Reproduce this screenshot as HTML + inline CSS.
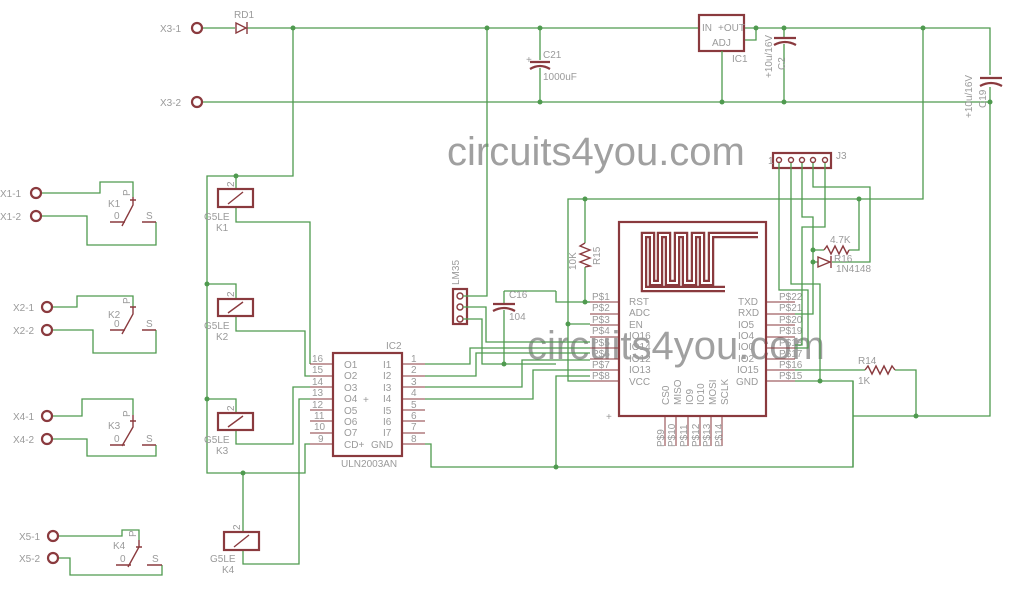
<!DOCTYPE html>
<html><head><meta charset="utf-8"><style>
html,body{margin:0;padding:0;background:#fff;}
svg{display:block;}
text{font-family:"Liberation Sans",sans-serif;fill:#9a9a9a;font-size:10px;}
.w{stroke:#4f9a4f;stroke-width:1.3;fill:none;}
.c{stroke:#8a3a3e;stroke-width:2.2;fill:none;}
.c1{stroke:#8a3a3e;stroke-width:1.4;fill:none;}
.d{fill:#4f9a4f;}
.wm{font-size:40px;fill:#a0a0a0;}
</style></head><body>
<svg width="1016" height="591" viewBox="0 0 1016 591" xmlns="http://www.w3.org/2000/svg">
<!-- rails -->
<path class="w" d="M203,28 H235 M247,28 H699 M744,28 H990 V75 M203,102 H990 M990,87 V416 H853"/>
<path class="w" d="M744,40 H756 V28"/>
<!-- X3 -->
<text x="160" y="32">X3-1</text><circle class="c" cx="197" cy="28" r="5"/>
<text x="160" y="106">X3-2</text><circle class="c" cx="197" cy="102" r="5"/>
<text x="234" y="18">RD1</text>
<path class="c1" d="M236,23 L246,28 L236,33 Z M247,22 V34" fill="none"/>
<!-- C21 -->
<path class="w" d="M540,28 V60 M540,68 V102"/>
<path class="c" d="M530,62 H550 M530,69 Q540,63 550,69"/><text x="526" y="63" font-size="8">+</text>
<text x="543" y="58">C21</text><text x="543" y="80">1000uF</text>
<!-- IC1 -->
<rect class="c" x="699" y="15" width="45" height="36"/>
<text x="702" y="31">IN</text><text x="718" y="31">+OUT</text><text x="712" y="46">ADJ</text><text x="732" y="62">IC1</text>
<path class="w" d="M722,51 V102"/>
<!-- C2 -->
<path class="w" d="M784,28 V37 M784,44 V102"/>
<path class="c" d="M774,38 H796 M774,45 Q785,39 796,45"/>
<text transform="translate(772,78) rotate(-90)">+10u/16V</text><text transform="translate(785,70) rotate(-90)">C2</text>
<!-- C19 -->
<path class="c" d="M980,78 H1002 M980,86 Q991,80 1002,86"/>
<text transform="translate(972,118) rotate(-90)">+10u/16V</text><text transform="translate(986,108) rotate(-90)">C19</text>
<!-- dots top -->
<g class="d"><circle cx="293" cy="28" r="2.5"/><circle cx="487" cy="28" r="2.5"/><circle cx="540" cy="28" r="2.5"/><circle cx="756" cy="28" r="2.5"/><circle cx="784" cy="28" r="2.5"/><circle cx="923" cy="28" r="2.5"/>
<circle cx="540" cy="102" r="2.5"/><circle cx="722" cy="102" r="2.5"/><circle cx="784" cy="102" r="2.5"/><circle cx="990" cy="102" r="2.5"/></g>
<!-- watermarks -->
<text class="wm" x="447" y="165">circuits4you.com</text>
<text class="wm" x="527" y="359">circuits4you.com</text>
<!-- left relay bus -->
<path class="w" d="M293,28 V176 H207 V473 H305 V444 H310 M207,284 H236 V299 M207,399 H236 V413 M236,176 V189"/>
<path class="w" d="M236,207 V222 H310 V364 M236,316 V331 H305 V376 H310 M236,430 V444 H293 V387 H310 M243,473 V532 M243,550 V564 H299 V399 H310"/>
<g class="d"><circle cx="236" cy="176" r="2.5"/><circle cx="207" cy="284" r="2.5"/><circle cx="207" cy="399" r="2.5"/><circle cx="243" cy="473" r="2.5"/></g>
<!-- relay coils -->
<g>
<rect class="c" x="218" y="189" width="35" height="18"/><path class="c1" d="M228,204 L243,192"/><text transform="translate(234,187) rotate(-90)" font-size="8">2</text><text x="204" y="220">G5LE</text><text x="216" y="231">K1</text>
<rect class="c" x="218" y="299" width="35" height="17"/><path class="c1" d="M228,313 L243,302"/><text transform="translate(234,297) rotate(-90)" font-size="8">2</text><text x="204" y="329">G5LE</text><text x="216" y="340">K2</text>
<rect class="c" x="218" y="413" width="35" height="17"/><path class="c1" d="M228,427 L243,416"/><text transform="translate(234,411) rotate(-90)" font-size="8">2</text><text x="204" y="443">G5LE</text><text x="216" y="454">K3</text>
<rect class="c" x="224" y="532" width="35" height="18"/><path class="c1" d="M234,547 L249,535"/><text transform="translate(240,530) rotate(-90)" font-size="8">2</text><text x="210" y="562">G5LE</text><text x="222" y="573">K4</text>
</g>
<!-- switches -->
<g>
<text x="0" y="197">X1-1</text><circle class="c" cx="36" cy="193" r="5"/>
<text x="0" y="220">X1-2</text><circle class="c" cx="36" cy="216" r="5"/>
<path class="w" d="M42,193 H100 V182 H133 V197 M42,216 H87 V245 H156 V222"/>
<path class="c1" d="M130,200 H136 M133,197 V205 L122,226 M110,222 H125 M142,222 H156"/>
<text x="108" y="207">K1</text><text x="114" y="219" font-size="8">0</text><text x="146" y="219" font-size="8">S</text><text transform="translate(130,196) rotate(-90)" font-size="8">P</text>

<text x="13" y="311">X2-1</text><circle class="c" cx="47" cy="307" r="5"/>
<text x="13" y="334">X2-2</text><circle class="c" cx="47" cy="330" r="5"/>
<path class="w" d="M53,307 H77 V296 H133 V307 M53,330 H93 V353 H156 V330"/>
<path class="c1" d="M130,307 H136 M133,307 V314 L122,334 M110,330 H125 M142,330 H156"/>
<text x="108" y="318">K2</text><text x="114" y="327" font-size="8">0</text><text x="146" y="327" font-size="8">S</text><text transform="translate(130,304) rotate(-90)" font-size="8">P</text>

<text x="13" y="420">X4-1</text><circle class="c" cx="47" cy="416" r="5"/>
<text x="13" y="443">X4-2</text><circle class="c" cx="47" cy="439" r="5"/>
<path class="w" d="M53,416 H82 V399 H133 V415 M53,439 H87 V456 H156 V445"/>
<path class="c1" d="M130,421 H136 M133,415 V427 L122,446 M110,445 H125 M142,445 H156"/>
<text x="108" y="429">K3</text><text x="114" y="442" font-size="8">0</text><text x="146" y="442" font-size="8">S</text><text transform="translate(130,417) rotate(-90)" font-size="8">P</text>

<text x="19" y="540">X5-1</text><circle class="c" cx="53" cy="536" r="5"/>
<text x="19" y="562">X5-2</text><circle class="c" cx="53" cy="558" r="5"/>
<path class="w" d="M59,536 H122 V530 H139 V540 M59,558 H70 V575 H162 V565"/>
<path class="c1" d="M136,547 H142 M139,540 V547 L128,567 M116,565 H131 M147,565 H162"/>
<text x="113" y="549">K4</text><text x="120" y="562" font-size="8">0</text><text x="152" y="562" font-size="8">S</text><text transform="translate(136,537) rotate(-90)" font-size="8">P</text>
</g>
<!-- ULN2003 -->
<rect class="c" x="333" y="353" width="69" height="103"/>
<text x="386" y="349">IC2</text><text x="341" y="467">ULN2003AN</text><text x="363" y="403" font-size="11">+</text>
<g class="c1" style="stroke-width:1">
<path d="M310,364 H333 M310,376 H333 M310,387 H333 M310,399 H333 M310,410 H333 M310,421 H333 M310,433 H333 M310,444 H333"/>
<path d="M402,364 H425 M402,376 H425 M402,387 H425 M402,399 H425 M402,410 H425 M402,421 H425 M402,433 H425 M402,444 H425"/>
</g>
<g font-size="9">
<text x="312" y="362">16</text><text x="312" y="373">15</text><text x="312" y="385">14</text><text x="312" y="396">13</text><text x="312" y="408">12</text><text x="314" y="419">11</text><text x="314" y="430">10</text><text x="318" y="442">9</text>
<text x="411" y="362">1</text><text x="411" y="373">2</text><text x="411" y="385">3</text><text x="411" y="396">4</text><text x="411" y="408">5</text><text x="411" y="419">6</text><text x="411" y="430">7</text><text x="411" y="442">8</text>
<text x="344" y="368">O1</text><text x="344" y="379">O2</text><text x="344" y="391">O3</text><text x="344" y="402">O4</text><text x="344" y="414">O5</text><text x="344" y="425">O6</text><text x="344" y="436">O7</text><text x="344" y="448">CD+</text>
<text x="383" y="368">I1</text><text x="383" y="379">I2</text><text x="383" y="391">I3</text><text x="383" y="402">I4</text><text x="383" y="414">I5</text><text x="383" y="425">I6</text><text x="383" y="436">I7</text><text x="371" y="448">GND</text>
</g>
<!-- ULN to ESP wires -->
<path class="w" d="M425,364 H470 V348 H590 M425,376 H476 V353 H590 M425,387 H522 V360 H590 M425,399 H533 V370 H590 M425,444 H431 V467 H853 V381 H795 M556,467 V376 H590"/>
<circle class="d" cx="556" cy="467" r="2.5"/>
<!-- LM35 -->
<rect class="c" x="453" y="289" width="14" height="35"/>
<circle class="c1" cx="460" cy="296" r="3"/><circle class="c1" cx="460" cy="307" r="3"/><circle class="c1" cx="460" cy="319" r="3"/>
<text transform="translate(459,285) rotate(-90)">LM35</text>
<path class="w" d="M463,296 H487 V28 M463,307 H486 V342 H590 M463,319 H482 V364 H556"/>
<!-- C16 -->
<path class="w" d="M504,291 V304 M504,310 V364 M556,291 H504 M556,291 V302 H590"/>
<path class="c" d="M493,304 H515 M493,311 Q504,305 515,311"/>
<text x="509" y="298">C16</text><text x="509" y="320">104</text>
<g class="d"><circle cx="504" cy="364" r="2.5"/></g>
<!-- VCC/ R15 -->
<path class="w" d="M923,28 V199 H568 V381 H590 M568,324 H590 M585,199 V243 M585,267 V302 H590"/>
<path class="c1" d="M585,243 L580,246 L590,250 L580,254 L590,258 L580,262 L590,266 L585,267"/>
<text transform="translate(576,270) rotate(-90)">10K</text><text transform="translate(600,265) rotate(-90)">R15</text>
<g class="d"><circle cx="585" cy="199" r="2.5"/><circle cx="585" cy="302" r="2.5"/><circle cx="568" cy="324" r="2.5"/><circle cx="859" cy="199" r="2.5"/></g>
<!-- ESP -->
<rect class="c" x="619" y="222" width="147" height="194"/>
<path d="M725,289 H644 V235 H652 V283 H660 V235 H668 V283 H677 V235 H685 V283 H694 V235 H702 V283 H711 V235 H758" stroke="#8a3a3e" stroke-width="6.5" fill="none" stroke-linejoin="miter"/>
<path d="M725,289 H644 V235 H652 V283 H660 V235 H668 V283 H677 V235 H685 V283 H694 V235 H702 V283 H711 V235 H758" stroke="#fff" stroke-width="2" fill="none"/>
<g class="c1" style="stroke-width:1">
<path d="M590,302 H619 M590,314 H619 M590,325 H619 M590,337 H619 M590,348 H619 M590,359 H619 M590,370 H619 M590,381 H619"/>
<path d="M766,302 H795 M766,314 H795 M766,325 H795 M766,337 H795 M766,348 H795 M766,359 H795 M766,370 H795 M766,381 H795"/>
<path d="M665,416 V446 M676,416 V446 M688,416 V446 M700,416 V446 M711,416 V446 M722,416 V446"/>
</g>
<g font-size="9">
<text x="592" y="300">P$1</text><text x="592" y="311">P$2</text><text x="592" y="323">P$3</text><text x="592" y="334">P$4</text><text x="592" y="346">P$5</text><text x="592" y="357">P$6</text><text x="592" y="368">P$7</text><text x="592" y="379">P$8</text>
<text x="629" y="305">RST</text><text x="629" y="316">ADC</text><text x="629" y="328">EN</text><text x="629" y="339">IO16</text><text x="629" y="350">IO14</text><text x="629" y="362">IO12</text><text x="629" y="373">IO13</text><text x="629" y="385">VCC</text>
<text x="738" y="305">TXD</text><text x="738" y="316">RXD</text><text x="738" y="328">IO5</text><text x="738" y="339">IO4</text><text x="738" y="350">IO0</text><text x="738" y="362">IO2</text><text x="737" y="373">IO15</text><text x="736" y="385">GND</text>
<text x="779" y="300">P$22</text><text x="779" y="311">P$21</text><text x="779" y="323">P$20</text><text x="779" y="334">P$19</text><text x="779" y="346">P$18</text><text x="779" y="357">P$17</text><text x="779" y="368">P$16</text><text x="779" y="379">P$15</text>
<text transform="translate(669,405) rotate(-90)">CS0</text><text transform="translate(681,405) rotate(-90)">MISO</text><text transform="translate(693,405) rotate(-90)">IO9</text><text transform="translate(704,405) rotate(-90)">IO10</text><text transform="translate(716,405) rotate(-90)">MOSI</text><text transform="translate(728,405) rotate(-90)">SCLK</text>
<text transform="translate(664,447) rotate(-90)">P$9</text><text transform="translate(675,447) rotate(-90)">P$10</text><text transform="translate(687,447) rotate(-90)">P$11</text><text transform="translate(699,447) rotate(-90)">P$12</text><text transform="translate(710,447) rotate(-90)">P$13</text><text transform="translate(722,447) rotate(-90)">P$14</text>
</g>
<text x="606" y="420">+</text>
<!-- J3 -->
<rect class="c" x="773" y="153" width="58" height="15"/>
<g class="c1"><circle cx="779" cy="160" r="2.5"/><circle cx="791" cy="160" r="2.5"/><circle cx="802" cy="160" r="2.5"/><circle cx="813" cy="160" r="2.5"/><circle cx="825" cy="160" r="2.5"/></g>
<text x="768" y="164" font-size="8">1</text><text x="836" y="159">J3</text>
<path class="w" d="M779,163 V290 H808 V348 H795 M791,163 V284 H820 V381 M802,163 V217 H813 V314 H795 M813,163 V187 H870 V262 H832 M825,163 V227 H802 V345 H795 M859,199 V250 H849 M813,250 H824 M813,250 V262 H818"/>
<path class="c1" d="M824,250 L827,246 L831,254 L835,246 L839,254 L843,246 L847,254 L849,250"/>
<path class="c1" d="M818,257 L830,262 L818,267 Z M831,256 V268"/>
<text x="830" y="243">4.7K</text><text x="834" y="262">R16</text><text x="836" y="272">1N4148</text>
<g class="d"><circle cx="813" cy="250" r="2.5"/><circle cx="813" cy="262" r="2.5"/><circle cx="820" cy="381" r="2.5"/></g>
<!-- R14 -->
<path class="w" d="M795,370 H865 M895,370 H916 V416 M853,381 V467"/>
<path class="c1" d="M865,370 L868,366 L872,374 L876,366 L880,374 L884,366 L888,374 L892,366 L895,370"/>
<text x="858" y="364">R14</text><text x="858" y="384">1K</text>
<circle class="d" cx="916" cy="416" r="2.5"/>
</svg>
</body></html>
